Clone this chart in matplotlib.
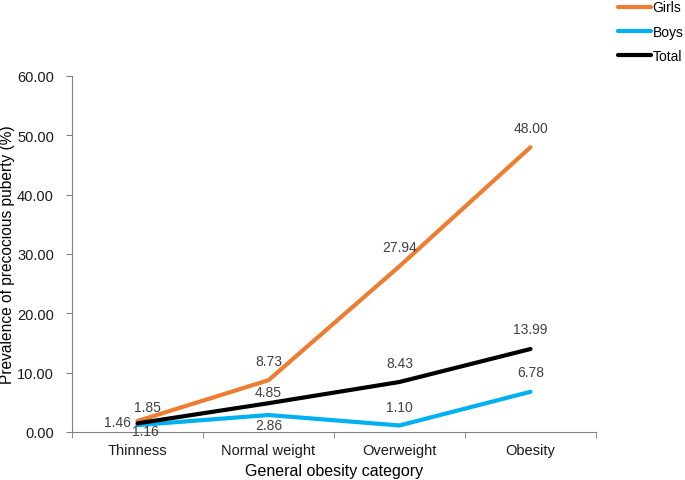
import matplotlib
matplotlib.use("Agg")
import matplotlib.pyplot as plt
import numpy as np

plt.rcParams['font.family'] = ['Liberation Sans', 'DejaVu Sans']

categories = ["Thinness", "Normal weight", "Overweight", "Obesity"]
girls = [1.85, 8.73, 27.94, 48.00]
boys = [1.16, 2.86, 1.10, 6.78]
total = [1.46, 4.85, 8.43, 13.99]

# label offsets in pixels (dx, dy)
girls_off = [(10, 14), (0, 19), (0, 19), (0, 19)]
boys_off = [(8, -6), (0, -10), (0, 18), (0, 20)]
total_off = [(-20, 1), (0, 11), (0, 19), (0, 20)]

fig = plt.figure(figsize=(6.85, 4.81), dpi=100)
ax = fig.add_axes([72 / 685, 48 / 481, 524 / 685, 356 / 481])

x = np.arange(len(categories))
series = [("Girls", girls, "#ED7D31", girls_off),
          ("Boys", boys, "#00B0F0", boys_off),
          ("Total", total, "black", total_off)]

for name, vals, col, offs in series:
    ax.plot(x, vals, color=col, lw=3, label=name, solid_capstyle="round")

px = 72 / 100
for name, vals, col, offs in series:
    for xi, v, (dx, dy) in zip(x, vals, offs):
        ax.annotate(f"{v:.2f}", (xi, v), xytext=(dx * px, dy * px),
                    textcoords="offset points", ha="center", va="center",
                    fontsize=10, color="#404040")

ax.set_xlim(-0.5, 3.5)
ax.set_ylim(0, 60)
ax.set_yticks(np.arange(0, 61, 10))
ax.set_yticklabels([f"{t:.2f}" for t in np.arange(0, 61, 10)])
ax.set_xticks(x)
ax.set_xticklabels(categories)
ax.set_xticks(np.arange(-0.5, 4, 1), minor=True)
ax.tick_params(axis="x", which="major", length=0, pad=8)
ax.tick_params(axis="x", which="minor", length=4, color="#808080", direction="out")
ax.tick_params(axis="y", length=4, color="#808080", direction="out", pad=9)
ax.tick_params(labelsize=10.5, labelcolor="#1a1a1a")

for s in ["top", "right"]:
    ax.spines[s].set_visible(False)
for s in ["left", "bottom"]:
    ax.spines[s].set_color("#808080")

ax.set_xlabel("General obesity category", fontsize=11.5, labelpad=4)
ax.set_ylabel("Prevalence of precocious puberty (%)", fontsize=11.2, va="center")
ax.yaxis.set_label_coords((8 - 72) / 524, 0.5)

fig.legend(loc="upper right", bbox_to_anchor=(1.0, 1.0), frameon=False,
           borderaxespad=0.0, borderpad=0.1,
           fontsize=10, handlelength=2.4, handletextpad=0.1, labelspacing=0.75)

fig.savefig("out.png", dpi=100)
